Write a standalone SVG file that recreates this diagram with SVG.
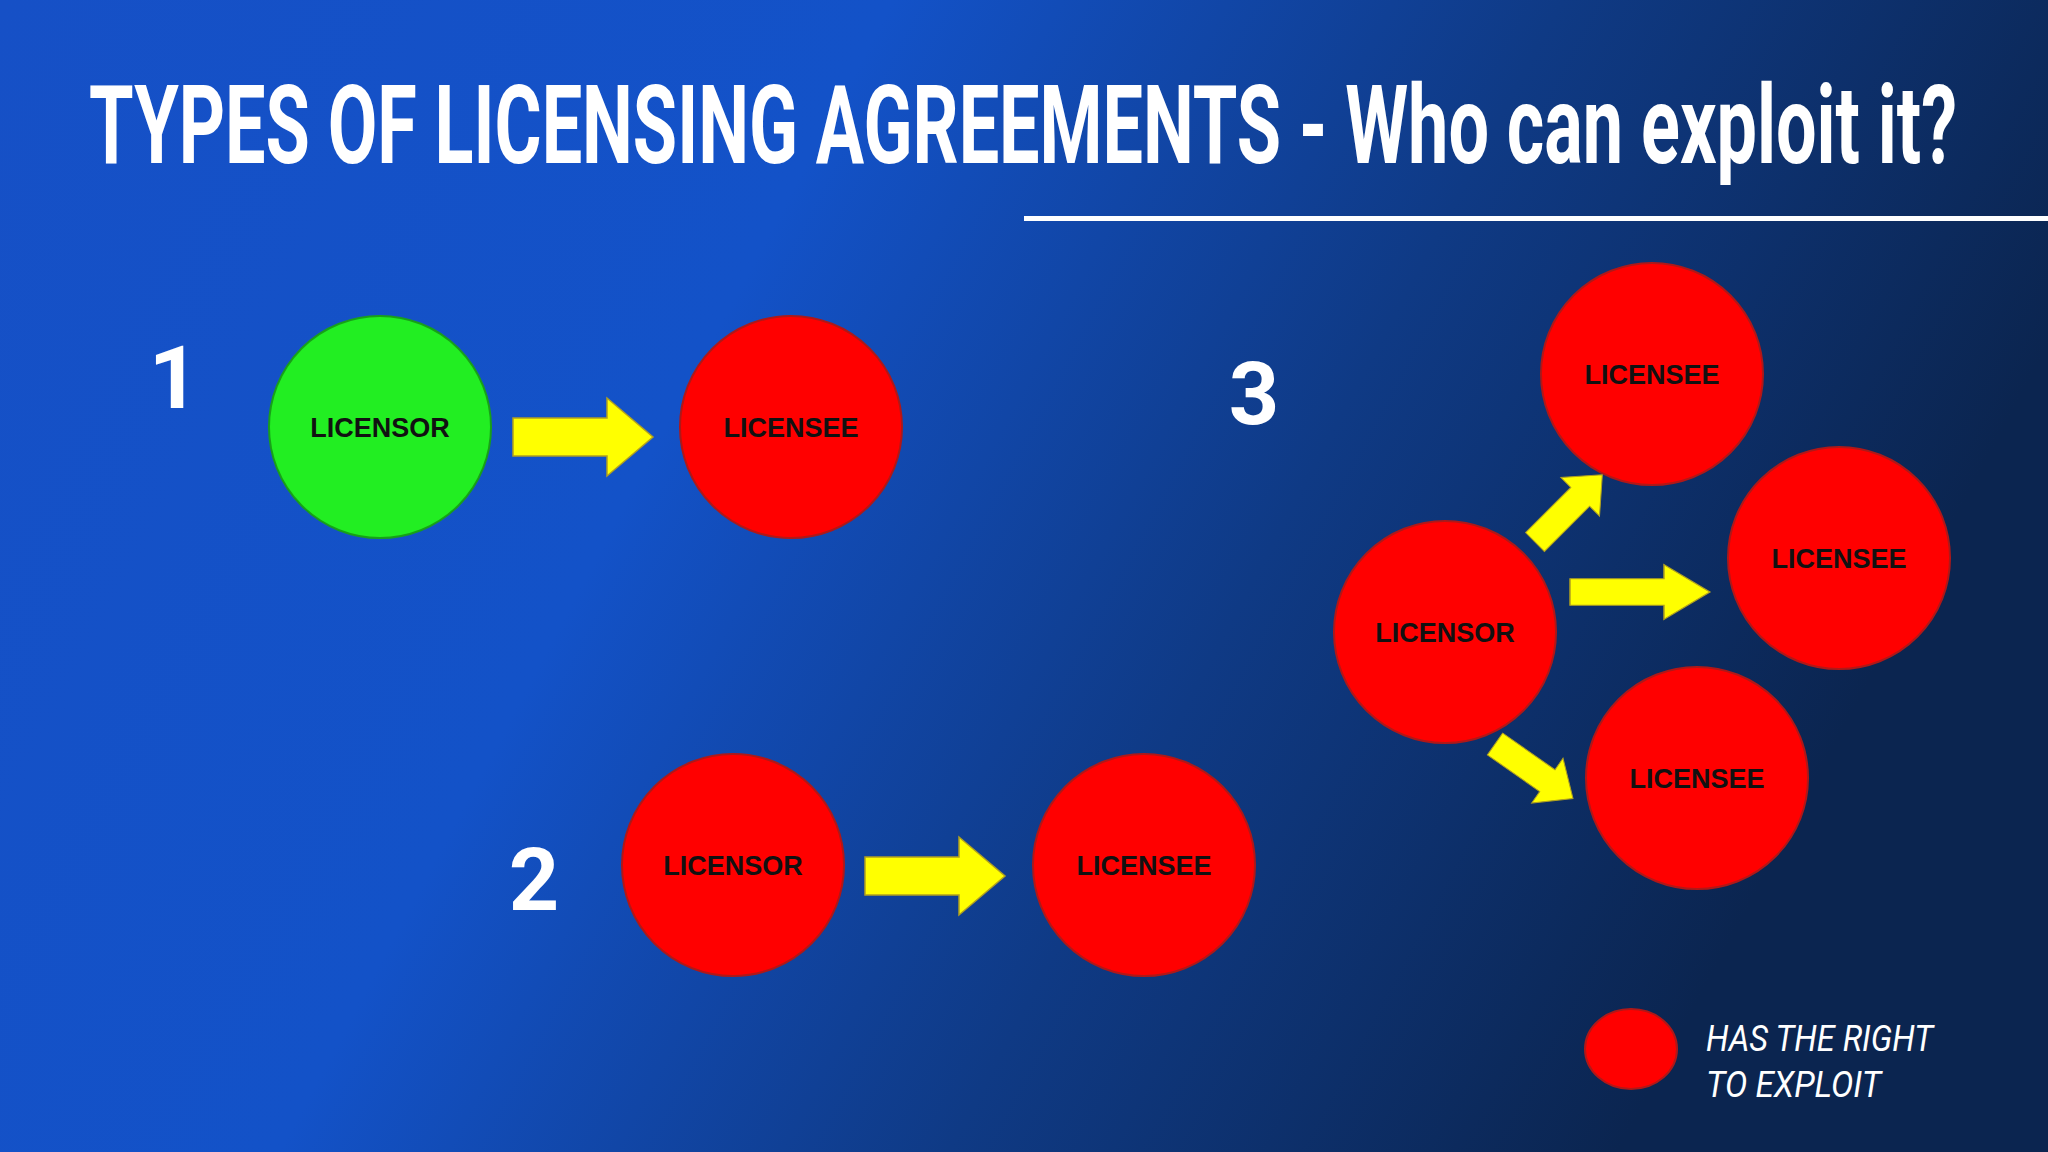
<svg xmlns="http://www.w3.org/2000/svg" width="2048" height="1152" viewBox="0 0 2048 1152">
<defs>
<linearGradient id="bg" x1="0" y1="0" x2="1" y2="0.3">
<stop offset="0" stop-color="#1650c6"/>
<stop offset="0.4" stop-color="#1352c8"/>
<stop offset="0.7" stop-color="#0f3a85"/>
<stop offset="1" stop-color="#0b2550"/>
</linearGradient>
<path id="arr" d="M0,-19 H94 V-39 L140,0 L94,39 V19 H0 Z"/>
</defs>
<style>
.red{fill:#ff0000;stroke:#b01818;stroke-width:2}
.green{fill:#22ee22;stroke:#18a018;stroke-width:2}
.lbl{font-family:"Liberation Sans",Arial,sans-serif;font-weight:bold;font-size:27px;fill:#111;text-anchor:middle}
.num{font-family:Roboto,"Liberation Sans",sans-serif;font-weight:bold;font-size:88px;fill:#fff;text-anchor:middle}
.arrow{fill:#ffff00;stroke:#b0a020;stroke-width:1.5}
.leg{font-family:Roboto,"Liberation Sans",sans-serif;font-style:italic;font-size:37px;fill:#fff}
</style>
<rect width="2048" height="1152" fill="url(#bg)"/>
<text x="89" y="163" font-family="Roboto,'Liberation Sans',sans-serif" font-weight="bold" font-size="110" fill="#fff" textLength="1868" lengthAdjust="spacingAndGlyphs">TYPES OF LICENSING AGREEMENTS - Who can exploit it?</text>
<rect x="1024" y="216" width="1024" height="5" fill="#fff"/>
<text class="num" x="174" y="408">1</text>
<text class="num" x="534" y="910">2</text>
<text class="num" x="1254" y="424">3</text>
<g id="n1a"><circle class="green" cx="380" cy="427" r="111"/><text class="lbl" x="380" y="437">LICENSOR</text></g>
<g id="n1b"><circle class="red" cx="791" cy="427" r="111"/><text class="lbl" x="791" y="437">LICENSEE</text></g>
<g id="n2a"><circle class="red" cx="733" cy="865" r="111"/><text class="lbl" x="733" y="875">LICENSOR</text></g>
<g id="n2b"><circle class="red" cx="1144" cy="865" r="111"/><text class="lbl" x="1144" y="875">LICENSEE</text></g>
<g id="n3a"><circle class="red" cx="1445" cy="632" r="111"/><text class="lbl" x="1445" y="642">LICENSOR</text></g>
<g id="n3b"><circle class="red" cx="1652" cy="374" r="111"/><text class="lbl" x="1652" y="384">LICENSEE</text></g>
<g id="n3c"><circle class="red" cx="1839" cy="558" r="111"/><text class="lbl" x="1839" y="568">LICENSEE</text></g>
<g id="n3d"><circle class="red" cx="1697" cy="778" r="111"/><text class="lbl" x="1697" y="788">LICENSEE</text></g>
<g id="connectors">
<use href="#arr" class="arrow" transform="translate(513,437)"/>
<use href="#arr" class="arrow" transform="translate(865,876)"/>
<use href="#arr" class="arrow" transform="translate(1570,592) scale(1,0.7)"/>
<use href="#arr" class="arrow" transform="translate(1535,542) rotate(-45) scale(0.68,0.7)"/>
<use href="#arr" class="arrow" transform="translate(1495,744) rotate(35) scale(0.68,0.7)"/>
</g>
<g id="legend">
<ellipse class="red" cx="1631" cy="1049" rx="46" ry="40"/>
<text class="leg" x="1706" y="1051" textLength="227" lengthAdjust="spacingAndGlyphs">HAS THE RIGHT</text>
<text class="leg" x="1706" y="1097" textLength="175" lengthAdjust="spacingAndGlyphs">TO EXPLOIT</text>
</g>
</svg>
